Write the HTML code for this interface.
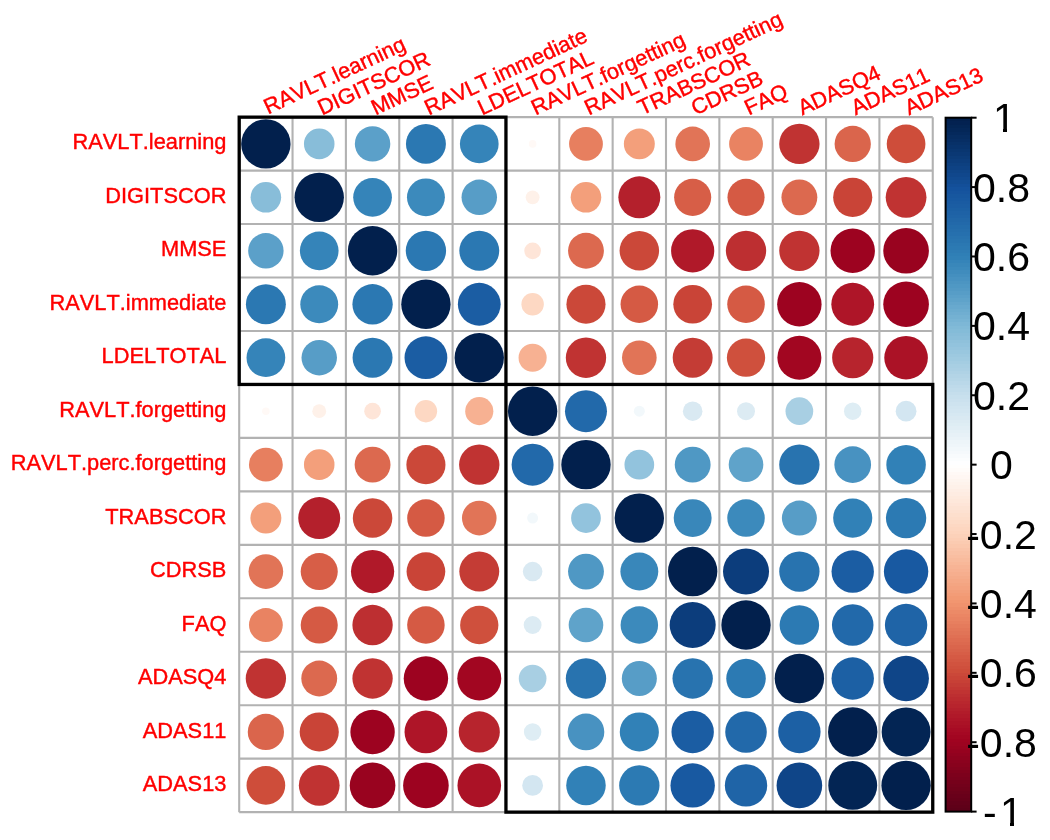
<!DOCTYPE html>
<html lang="en"><head><meta charset="utf-8"><title>Correlation plot</title>
<style>html,body{margin:0;padding:0;background:#fff}body{width:1050px;height:840px;overflow:hidden}svg{display:block;filter:blur(0.4px)}text{font-family:"Liberation Sans",Arial,Helvetica,sans-serif;font-kerning:none}</style></head><body>
<svg width="1050" height="840" viewBox="0 0 1050 840">
<rect width="1050" height="840" fill="#fff"/>
<g stroke="#B2B2B2" stroke-width="2.1" fill="none">
<line x1="239.20" y1="117.15" x2="239.20" y2="812.13"/>
<line x1="239.20" y1="117.15" x2="932.75" y2="117.15"/>
<line x1="292.55" y1="117.15" x2="292.55" y2="812.13"/>
<line x1="239.20" y1="170.61" x2="932.75" y2="170.61"/>
<line x1="345.90" y1="117.15" x2="345.90" y2="812.13"/>
<line x1="239.20" y1="224.07" x2="932.75" y2="224.07"/>
<line x1="399.25" y1="117.15" x2="399.25" y2="812.13"/>
<line x1="239.20" y1="277.53" x2="932.75" y2="277.53"/>
<line x1="452.60" y1="117.15" x2="452.60" y2="812.13"/>
<line x1="239.20" y1="330.99" x2="932.75" y2="330.99"/>
<line x1="505.95" y1="117.15" x2="505.95" y2="812.13"/>
<line x1="239.20" y1="384.45" x2="932.75" y2="384.45"/>
<line x1="559.30" y1="117.15" x2="559.30" y2="812.13"/>
<line x1="239.20" y1="437.91" x2="932.75" y2="437.91"/>
<line x1="612.65" y1="117.15" x2="612.65" y2="812.13"/>
<line x1="239.20" y1="491.37" x2="932.75" y2="491.37"/>
<line x1="666.00" y1="117.15" x2="666.00" y2="812.13"/>
<line x1="239.20" y1="544.83" x2="932.75" y2="544.83"/>
<line x1="719.35" y1="117.15" x2="719.35" y2="812.13"/>
<line x1="239.20" y1="598.29" x2="932.75" y2="598.29"/>
<line x1="772.70" y1="117.15" x2="772.70" y2="812.13"/>
<line x1="239.20" y1="651.75" x2="932.75" y2="651.75"/>
<line x1="826.05" y1="117.15" x2="826.05" y2="812.13"/>
<line x1="239.20" y1="705.21" x2="932.75" y2="705.21"/>
<line x1="879.40" y1="117.15" x2="879.40" y2="812.13"/>
<line x1="239.20" y1="758.67" x2="932.75" y2="758.67"/>
<line x1="932.75" y1="117.15" x2="932.75" y2="812.13"/>
<line x1="239.20" y1="812.13" x2="932.75" y2="812.13"/>
</g>
<g>
<circle cx="265.88" cy="143.88" r="24.70" fill="#02204D"/>
<circle cx="319.23" cy="143.88" r="15.28" fill="#88BDD9"/>
<circle cx="372.57" cy="143.88" r="17.73" fill="#5BA0C9"/>
<circle cx="425.92" cy="143.88" r="19.97" fill="#2B78B2"/>
<circle cx="479.27" cy="143.88" r="19.36" fill="#3584B9"/>
<circle cx="532.62" cy="143.88" r="3.77" fill="#FFF9F6"/>
<circle cx="585.98" cy="143.88" r="16.91" fill="#E77F5F"/>
<circle cx="639.33" cy="143.88" r="15.48" fill="#F39F7B"/>
<circle cx="692.67" cy="143.88" r="17.32" fill="#E17457"/>
<circle cx="746.02" cy="143.88" r="16.91" fill="#E98362"/>
<circle cx="799.38" cy="143.88" r="20.17" fill="#C03332"/>
<circle cx="852.72" cy="143.88" r="18.13" fill="#DA654C"/>
<circle cx="906.08" cy="143.88" r="19.36" fill="#CE4D3A"/>
<circle cx="265.88" cy="197.34" r="15.28" fill="#88BDD9"/>
<circle cx="319.23" cy="197.34" r="24.70" fill="#02204D"/>
<circle cx="372.57" cy="197.34" r="19.36" fill="#3584B9"/>
<circle cx="425.92" cy="197.34" r="18.95" fill="#3C8ABC"/>
<circle cx="479.27" cy="197.34" r="17.73" fill="#579DC7"/>
<circle cx="532.62" cy="197.34" r="6.93" fill="#FEF1E9"/>
<circle cx="585.98" cy="197.34" r="15.28" fill="#F39F7B"/>
<circle cx="639.33" cy="197.34" r="20.99" fill="#B4202C"/>
<circle cx="692.67" cy="197.34" r="18.54" fill="#D75E47"/>
<circle cx="746.02" cy="197.34" r="18.54" fill="#D55A44"/>
<circle cx="799.38" cy="197.34" r="17.93" fill="#DC694F"/>
<circle cx="852.72" cy="197.34" r="19.56" fill="#C94437"/>
<circle cx="906.08" cy="197.34" r="20.38" fill="#C03332"/>
<circle cx="265.88" cy="250.80" r="17.73" fill="#5BA0C9"/>
<circle cx="319.23" cy="250.80" r="19.36" fill="#3584B9"/>
<circle cx="372.57" cy="250.80" r="24.70" fill="#02204D"/>
<circle cx="425.92" cy="250.80" r="20.17" fill="#2B78B2"/>
<circle cx="479.27" cy="250.80" r="19.97" fill="#2B78B2"/>
<circle cx="532.62" cy="250.80" r="8.35" fill="#FEE5D8"/>
<circle cx="585.98" cy="250.80" r="17.93" fill="#DC694F"/>
<circle cx="639.33" cy="250.80" r="19.76" fill="#CB4839"/>
<circle cx="692.67" cy="250.80" r="21.60" fill="#B01929"/>
<circle cx="746.02" cy="250.80" r="20.17" fill="#BD2F31"/>
<circle cx="799.38" cy="250.80" r="20.17" fill="#C03332"/>
<circle cx="852.72" cy="250.80" r="22.21" fill="#9D0320"/>
<circle cx="906.08" cy="250.80" r="22.82" fill="#99031F"/>
<circle cx="265.88" cy="304.26" r="19.97" fill="#2B78B2"/>
<circle cx="319.23" cy="304.26" r="18.95" fill="#3C8ABC"/>
<circle cx="372.57" cy="304.26" r="20.17" fill="#2B78B2"/>
<circle cx="425.92" cy="304.26" r="24.70" fill="#02204D"/>
<circle cx="479.27" cy="304.26" r="21.39" fill="#1B5DA3"/>
<circle cx="532.62" cy="304.26" r="11.21" fill="#FDD8C3"/>
<circle cx="585.98" cy="304.26" r="19.56" fill="#CB4839"/>
<circle cx="639.33" cy="304.26" r="18.75" fill="#D55A44"/>
<circle cx="692.67" cy="304.26" r="19.36" fill="#C94437"/>
<circle cx="746.02" cy="304.26" r="18.75" fill="#D55A44"/>
<circle cx="799.38" cy="304.26" r="22.21" fill="#9D0320"/>
<circle cx="852.72" cy="304.26" r="21.39" fill="#AE1528"/>
<circle cx="906.08" cy="304.26" r="22.82" fill="#9D0320"/>
<circle cx="265.88" cy="357.72" r="19.36" fill="#3584B9"/>
<circle cx="319.23" cy="357.72" r="17.73" fill="#579DC7"/>
<circle cx="372.57" cy="357.72" r="19.97" fill="#2B78B2"/>
<circle cx="425.92" cy="357.72" r="21.39" fill="#1B5DA3"/>
<circle cx="479.27" cy="357.72" r="24.70" fill="#02204D"/>
<circle cx="532.62" cy="357.72" r="14.06" fill="#F7B192"/>
<circle cx="585.98" cy="357.72" r="20.17" fill="#C03332"/>
<circle cx="639.33" cy="357.72" r="17.32" fill="#E17457"/>
<circle cx="692.67" cy="357.72" r="19.97" fill="#C43C35"/>
<circle cx="746.02" cy="357.72" r="19.15" fill="#CF503D"/>
<circle cx="799.38" cy="357.72" r="22.00" fill="#A20621"/>
<circle cx="852.72" cy="357.72" r="20.58" fill="#B7242D"/>
<circle cx="906.08" cy="357.72" r="21.80" fill="#AB1226"/>
<circle cx="265.88" cy="411.18" r="3.77" fill="#FFF9F6"/>
<circle cx="319.23" cy="411.18" r="6.93" fill="#FEF1E9"/>
<circle cx="372.57" cy="411.18" r="8.35" fill="#FEE5D8"/>
<circle cx="425.92" cy="411.18" r="11.21" fill="#FDD8C3"/>
<circle cx="479.27" cy="411.18" r="14.06" fill="#F7B192"/>
<circle cx="532.62" cy="411.18" r="24.70" fill="#02204D"/>
<circle cx="585.98" cy="411.18" r="20.99" fill="#2269AA"/>
<circle cx="639.33" cy="411.18" r="5.50" fill="#F2F8FB"/>
<circle cx="692.67" cy="411.18" r="9.78" fill="#D9E9F2"/>
<circle cx="746.02" cy="411.18" r="8.96" fill="#DCEBF3"/>
<circle cx="799.38" cy="411.18" r="13.85" fill="#A8CFE3"/>
<circle cx="852.72" cy="411.18" r="8.76" fill="#DEEDF4"/>
<circle cx="906.08" cy="411.18" r="10.39" fill="#D3E6F1"/>
<circle cx="265.88" cy="464.64" r="16.91" fill="#E77F5F"/>
<circle cx="319.23" cy="464.64" r="15.28" fill="#F39F7B"/>
<circle cx="372.57" cy="464.64" r="17.93" fill="#DC694F"/>
<circle cx="425.92" cy="464.64" r="19.56" fill="#CB4839"/>
<circle cx="479.27" cy="464.64" r="20.17" fill="#C03332"/>
<circle cx="532.62" cy="464.64" r="20.99" fill="#2269AA"/>
<circle cx="585.98" cy="464.64" r="24.70" fill="#02204D"/>
<circle cx="639.33" cy="464.64" r="14.87" fill="#92C3DD"/>
<circle cx="692.67" cy="464.64" r="17.93" fill="#4F98C4"/>
<circle cx="746.02" cy="464.64" r="17.32" fill="#5FA3CA"/>
<circle cx="799.38" cy="464.64" r="20.17" fill="#2873AF"/>
<circle cx="852.72" cy="464.64" r="18.34" fill="#4892C1"/>
<circle cx="906.08" cy="464.64" r="19.76" fill="#3181B7"/>
<circle cx="265.88" cy="518.10" r="15.48" fill="#F39F7B"/>
<circle cx="319.23" cy="518.10" r="20.99" fill="#B4202C"/>
<circle cx="372.57" cy="518.10" r="19.76" fill="#CB4839"/>
<circle cx="425.92" cy="518.10" r="18.75" fill="#D55A44"/>
<circle cx="479.27" cy="518.10" r="17.32" fill="#E17457"/>
<circle cx="532.62" cy="518.10" r="5.50" fill="#F2F8FB"/>
<circle cx="585.98" cy="518.10" r="14.87" fill="#92C3DD"/>
<circle cx="639.33" cy="518.10" r="24.70" fill="#02204D"/>
<circle cx="692.67" cy="518.10" r="18.95" fill="#3987BA"/>
<circle cx="746.02" cy="518.10" r="18.75" fill="#3C8ABC"/>
<circle cx="799.38" cy="518.10" r="17.52" fill="#579DC7"/>
<circle cx="852.72" cy="518.10" r="19.56" fill="#3181B7"/>
<circle cx="906.08" cy="518.10" r="20.17" fill="#2C7AB3"/>
<circle cx="265.88" cy="571.56" r="17.32" fill="#E17457"/>
<circle cx="319.23" cy="571.56" r="18.54" fill="#D75E47"/>
<circle cx="372.57" cy="571.56" r="21.60" fill="#B01929"/>
<circle cx="425.92" cy="571.56" r="19.36" fill="#C94437"/>
<circle cx="479.27" cy="571.56" r="19.97" fill="#C43C35"/>
<circle cx="532.62" cy="571.56" r="9.78" fill="#D9E9F2"/>
<circle cx="585.98" cy="571.56" r="17.93" fill="#4F98C4"/>
<circle cx="639.33" cy="571.56" r="18.95" fill="#3987BA"/>
<circle cx="692.67" cy="571.56" r="24.70" fill="#02204D"/>
<circle cx="746.02" cy="571.56" r="23.02" fill="#0C3D7C"/>
<circle cx="799.38" cy="571.56" r="20.17" fill="#2873AF"/>
<circle cx="852.72" cy="571.56" r="21.19" fill="#1B5DA3"/>
<circle cx="906.08" cy="571.56" r="22.21" fill="#1859A1"/>
<circle cx="265.88" cy="625.02" r="16.91" fill="#E98362"/>
<circle cx="319.23" cy="625.02" r="18.54" fill="#D55A44"/>
<circle cx="372.57" cy="625.02" r="20.17" fill="#BD2F31"/>
<circle cx="425.92" cy="625.02" r="18.75" fill="#D55A44"/>
<circle cx="479.27" cy="625.02" r="19.15" fill="#CF503D"/>
<circle cx="532.62" cy="625.02" r="8.96" fill="#DCEBF3"/>
<circle cx="585.98" cy="625.02" r="17.32" fill="#5FA3CA"/>
<circle cx="639.33" cy="625.02" r="18.75" fill="#3C8ABC"/>
<circle cx="692.67" cy="625.02" r="23.02" fill="#0C3D7C"/>
<circle cx="746.02" cy="625.02" r="24.70" fill="#02204D"/>
<circle cx="799.38" cy="625.02" r="19.76" fill="#2C7AB3"/>
<circle cx="852.72" cy="625.02" r="20.78" fill="#2269AA"/>
<circle cx="906.08" cy="625.02" r="21.19" fill="#1F64A7"/>
<circle cx="265.88" cy="678.48" r="20.17" fill="#C03332"/>
<circle cx="319.23" cy="678.48" r="17.93" fill="#DC694F"/>
<circle cx="372.57" cy="678.48" r="20.17" fill="#C03332"/>
<circle cx="425.92" cy="678.48" r="22.21" fill="#9D0320"/>
<circle cx="479.27" cy="678.48" r="22.00" fill="#A20621"/>
<circle cx="532.62" cy="678.48" r="13.85" fill="#A8CFE3"/>
<circle cx="585.98" cy="678.48" r="20.17" fill="#2873AF"/>
<circle cx="639.33" cy="678.48" r="17.52" fill="#579DC7"/>
<circle cx="692.67" cy="678.48" r="20.17" fill="#2873AF"/>
<circle cx="746.02" cy="678.48" r="19.76" fill="#2C7AB3"/>
<circle cx="799.38" cy="678.48" r="24.70" fill="#02204D"/>
<circle cx="852.72" cy="678.48" r="21.19" fill="#1C60A4"/>
<circle cx="906.08" cy="678.48" r="22.82" fill="#0F4588"/>
<circle cx="265.88" cy="731.94" r="18.13" fill="#DA654C"/>
<circle cx="319.23" cy="731.94" r="19.56" fill="#C94437"/>
<circle cx="372.57" cy="731.94" r="22.21" fill="#9D0320"/>
<circle cx="425.92" cy="731.94" r="21.39" fill="#AE1528"/>
<circle cx="479.27" cy="731.94" r="20.58" fill="#B7242D"/>
<circle cx="532.62" cy="731.94" r="8.76" fill="#DEEDF4"/>
<circle cx="585.98" cy="731.94" r="18.34" fill="#4892C1"/>
<circle cx="639.33" cy="731.94" r="19.56" fill="#3181B7"/>
<circle cx="692.67" cy="731.94" r="21.19" fill="#1B5DA3"/>
<circle cx="746.02" cy="731.94" r="20.78" fill="#2269AA"/>
<circle cx="799.38" cy="731.94" r="21.19" fill="#1C60A4"/>
<circle cx="852.72" cy="731.94" r="24.70" fill="#02204D"/>
<circle cx="906.08" cy="731.94" r="24.45" fill="#032554"/>
<circle cx="265.88" cy="785.40" r="19.36" fill="#CE4D3A"/>
<circle cx="319.23" cy="785.40" r="20.38" fill="#C03332"/>
<circle cx="372.57" cy="785.40" r="22.82" fill="#99031F"/>
<circle cx="425.92" cy="785.40" r="22.82" fill="#9D0320"/>
<circle cx="479.27" cy="785.40" r="21.80" fill="#AB1226"/>
<circle cx="532.62" cy="785.40" r="10.39" fill="#D3E6F1"/>
<circle cx="585.98" cy="785.40" r="19.76" fill="#3181B7"/>
<circle cx="639.33" cy="785.40" r="20.17" fill="#2C7AB3"/>
<circle cx="692.67" cy="785.40" r="22.21" fill="#1859A1"/>
<circle cx="746.02" cy="785.40" r="21.19" fill="#1F64A7"/>
<circle cx="799.38" cy="785.40" r="22.82" fill="#0F4588"/>
<circle cx="852.72" cy="785.40" r="24.45" fill="#032554"/>
<circle cx="906.08" cy="785.40" r="24.70" fill="#02204D"/>
</g>
<g stroke="#000" stroke-width="3.3" fill="none">
<rect x="239.20" y="117.15" width="266.75" height="267.30"/>
<rect x="505.95" y="384.45" width="426.80" height="427.68"/>
</g>
<g fill="#FF0000" stroke="#FF0000" stroke-width="0.4" font-size="21.8" text-anchor="end">
<text x="226.4" y="149.30">RAVLT.learning</text>
<text x="226.4" y="202.80">DIGITSCOR</text>
<text x="226.4" y="256.30">MMSE</text>
<text x="226.4" y="309.80">RAVLT.immediate</text>
<text x="226.4" y="363.30">LDELTOTAL</text>
<text x="226.4" y="416.80">RAVLT.forgetting</text>
<text x="226.4" y="470.30">RAVLT.perc.forgetting</text>
<text x="226.4" y="523.80">TRABSCOR</text>
<text x="226.4" y="577.30">CDRSB</text>
<text x="226.4" y="630.80">FAQ</text>
<text x="226.4" y="684.30">ADASQ4</text>
<text x="226.4" y="737.80">ADAS11</text>
<text x="226.4" y="791.30">ADAS13</text>
</g>
<g fill="#FF0000" stroke="#FF0000" stroke-width="0.4" font-size="21.8">
<text transform="translate(267.88 114.40) rotate(-25)">RAVLT.learning</text>
<text transform="translate(322.03 115.60) rotate(-25)">DIGITSCOR</text>
<text transform="translate(375.38 115.60) rotate(-25)">MMSE</text>
<text transform="translate(428.72 115.60) rotate(-25)">RAVLT.immediate</text>
<text transform="translate(482.07 115.60) rotate(-25)">LDELTOTAL</text>
<text transform="translate(535.42 115.60) rotate(-25)">RAVLT.forgetting</text>
<text transform="translate(588.77 115.60) rotate(-25)">RAVLT.perc.forgetting</text>
<text transform="translate(642.12 115.60) rotate(-25)">TRABSCOR</text>
<text transform="translate(695.47 115.60) rotate(-25)">CDRSB</text>
<text transform="translate(748.82 115.60) rotate(-25)">FAQ</text>
<text transform="translate(802.17 115.60) rotate(-25)">ADASQ4</text>
<text transform="translate(855.52 115.60) rotate(-25)">ADAS11</text>
<text transform="translate(908.88 115.60) rotate(-25)">ADAS13</text>
</g>
<g shape-rendering="crispEdges">
<rect x="945.60" y="117.70" width="25.60" height="3.97" fill="#02204D"/>
<rect x="945.60" y="121.17" width="25.60" height="3.97" fill="#032251"/>
<rect x="945.60" y="124.64" width="25.60" height="3.97" fill="#032554"/>
<rect x="945.60" y="128.11" width="25.60" height="3.97" fill="#042758"/>
<rect x="945.60" y="131.58" width="25.60" height="3.97" fill="#05295C"/>
<rect x="945.60" y="135.05" width="25.60" height="3.97" fill="#062C60"/>
<rect x="945.60" y="138.52" width="25.60" height="3.97" fill="#072E64"/>
<rect x="945.60" y="141.99" width="25.60" height="3.97" fill="#083168"/>
<rect x="945.60" y="145.46" width="25.60" height="3.97" fill="#08336C"/>
<rect x="945.60" y="148.93" width="25.60" height="3.97" fill="#093670"/>
<rect x="945.60" y="152.40" width="25.60" height="3.97" fill="#0A3874"/>
<rect x="945.60" y="155.86" width="25.60" height="3.97" fill="#0B3B78"/>
<rect x="945.60" y="159.33" width="25.60" height="3.97" fill="#0C3D7C"/>
<rect x="945.60" y="162.80" width="25.60" height="3.97" fill="#0D4080"/>
<rect x="945.60" y="166.27" width="25.60" height="3.97" fill="#0E4284"/>
<rect x="945.60" y="169.74" width="25.60" height="3.97" fill="#0F4588"/>
<rect x="945.60" y="173.21" width="25.60" height="3.97" fill="#10478C"/>
<rect x="945.60" y="176.68" width="25.60" height="3.97" fill="#114A90"/>
<rect x="945.60" y="180.15" width="25.60" height="3.97" fill="#124D94"/>
<rect x="945.60" y="183.62" width="25.60" height="3.97" fill="#134F99"/>
<rect x="945.60" y="187.09" width="25.60" height="3.97" fill="#14529D"/>
<rect x="945.60" y="190.56" width="25.60" height="3.97" fill="#16549E"/>
<rect x="945.60" y="194.03" width="25.60" height="3.97" fill="#17579F"/>
<rect x="945.60" y="197.50" width="25.60" height="3.97" fill="#1859A1"/>
<rect x="945.60" y="200.97" width="25.60" height="3.97" fill="#1A5BA2"/>
<rect x="945.60" y="204.44" width="25.60" height="3.97" fill="#1B5DA3"/>
<rect x="945.60" y="207.91" width="25.60" height="3.97" fill="#1C60A4"/>
<rect x="945.60" y="211.38" width="25.60" height="3.97" fill="#1E62A6"/>
<rect x="945.60" y="214.85" width="25.60" height="3.97" fill="#1F64A7"/>
<rect x="945.60" y="218.32" width="25.60" height="3.97" fill="#2167A8"/>
<rect x="945.60" y="221.79" width="25.60" height="3.97" fill="#2269AA"/>
<rect x="945.60" y="225.25" width="25.60" height="3.97" fill="#236CAB"/>
<rect x="945.60" y="228.72" width="25.60" height="3.97" fill="#256EAC"/>
<rect x="945.60" y="232.19" width="25.60" height="3.97" fill="#2670AE"/>
<rect x="945.60" y="235.66" width="25.60" height="3.97" fill="#2873AF"/>
<rect x="945.60" y="239.13" width="25.60" height="3.97" fill="#2975B0"/>
<rect x="945.60" y="242.60" width="25.60" height="3.97" fill="#2B78B2"/>
<rect x="945.60" y="246.07" width="25.60" height="3.97" fill="#2C7AB3"/>
<rect x="945.60" y="249.54" width="25.60" height="3.97" fill="#2E7CB4"/>
<rect x="945.60" y="253.01" width="25.60" height="3.97" fill="#2F7FB6"/>
<rect x="945.60" y="256.48" width="25.60" height="3.97" fill="#3181B7"/>
<rect x="945.60" y="259.95" width="25.60" height="3.97" fill="#3584B9"/>
<rect x="945.60" y="263.42" width="25.60" height="3.97" fill="#3987BA"/>
<rect x="945.60" y="266.89" width="25.60" height="3.97" fill="#3C8ABC"/>
<rect x="945.60" y="270.36" width="25.60" height="3.97" fill="#408CBD"/>
<rect x="945.60" y="273.83" width="25.60" height="3.97" fill="#448FBF"/>
<rect x="945.60" y="277.30" width="25.60" height="3.97" fill="#4892C1"/>
<rect x="945.60" y="280.77" width="25.60" height="3.97" fill="#4C95C2"/>
<rect x="945.60" y="284.24" width="25.60" height="3.97" fill="#4F98C4"/>
<rect x="945.60" y="287.71" width="25.60" height="3.97" fill="#539AC5"/>
<rect x="945.60" y="291.18" width="25.60" height="3.97" fill="#579DC7"/>
<rect x="945.60" y="294.64" width="25.60" height="3.97" fill="#5BA0C9"/>
<rect x="945.60" y="298.11" width="25.60" height="3.97" fill="#5FA3CA"/>
<rect x="945.60" y="301.58" width="25.60" height="3.97" fill="#64A6CC"/>
<rect x="945.60" y="305.05" width="25.60" height="3.97" fill="#68A9CE"/>
<rect x="945.60" y="308.52" width="25.60" height="3.97" fill="#6CACCF"/>
<rect x="945.60" y="311.99" width="25.60" height="3.97" fill="#70AED1"/>
<rect x="945.60" y="315.46" width="25.60" height="3.97" fill="#74B1D2"/>
<rect x="945.60" y="318.93" width="25.60" height="3.97" fill="#78B4D4"/>
<rect x="945.60" y="322.40" width="25.60" height="3.97" fill="#7DB7D6"/>
<rect x="945.60" y="325.87" width="25.60" height="3.97" fill="#81BAD7"/>
<rect x="945.60" y="329.34" width="25.60" height="3.97" fill="#84BCD8"/>
<rect x="945.60" y="332.81" width="25.60" height="3.97" fill="#88BDD9"/>
<rect x="945.60" y="336.28" width="25.60" height="3.97" fill="#8BBFDA"/>
<rect x="945.60" y="339.75" width="25.60" height="3.97" fill="#8FC1DB"/>
<rect x="945.60" y="343.22" width="25.60" height="3.97" fill="#92C3DD"/>
<rect x="945.60" y="346.69" width="25.60" height="3.97" fill="#96C5DE"/>
<rect x="945.60" y="350.16" width="25.60" height="3.97" fill="#99C7DF"/>
<rect x="945.60" y="353.63" width="25.60" height="3.97" fill="#9DC9E0"/>
<rect x="945.60" y="357.10" width="25.60" height="3.97" fill="#A0CBE1"/>
<rect x="945.60" y="360.56" width="25.60" height="3.97" fill="#A4CDE2"/>
<rect x="945.60" y="364.03" width="25.60" height="3.97" fill="#A8CFE3"/>
<rect x="945.60" y="367.50" width="25.60" height="3.97" fill="#ABD0E4"/>
<rect x="945.60" y="370.97" width="25.60" height="3.97" fill="#AFD2E5"/>
<rect x="945.60" y="374.44" width="25.60" height="3.97" fill="#B3D4E6"/>
<rect x="945.60" y="377.91" width="25.60" height="3.97" fill="#B6D6E7"/>
<rect x="945.60" y="381.38" width="25.60" height="3.97" fill="#BAD8E9"/>
<rect x="945.60" y="384.85" width="25.60" height="3.97" fill="#BEDAEA"/>
<rect x="945.60" y="388.32" width="25.60" height="3.97" fill="#C1DCEB"/>
<rect x="945.60" y="391.79" width="25.60" height="3.97" fill="#C5DEEC"/>
<rect x="945.60" y="395.26" width="25.60" height="3.97" fill="#C8E0ED"/>
<rect x="945.60" y="398.73" width="25.60" height="3.97" fill="#CBE1EE"/>
<rect x="945.60" y="402.20" width="25.60" height="3.97" fill="#CEE3EF"/>
<rect x="945.60" y="405.67" width="25.60" height="3.97" fill="#D1E5F0"/>
<rect x="945.60" y="409.14" width="25.60" height="3.97" fill="#D3E6F1"/>
<rect x="945.60" y="412.61" width="25.60" height="3.97" fill="#D6E8F2"/>
<rect x="945.60" y="416.08" width="25.60" height="3.97" fill="#D9E9F2"/>
<rect x="945.60" y="419.55" width="25.60" height="3.97" fill="#DCEBF3"/>
<rect x="945.60" y="423.02" width="25.60" height="3.97" fill="#DEEDF4"/>
<rect x="945.60" y="426.49" width="25.60" height="3.97" fill="#E1EEF5"/>
<rect x="945.60" y="429.95" width="25.60" height="3.97" fill="#E4F0F6"/>
<rect x="945.60" y="433.42" width="25.60" height="3.97" fill="#E7F1F7"/>
<rect x="945.60" y="436.89" width="25.60" height="3.97" fill="#EAF3F8"/>
<rect x="945.60" y="440.36" width="25.60" height="3.97" fill="#EDF5F9"/>
<rect x="945.60" y="443.83" width="25.60" height="3.97" fill="#EFF6FA"/>
<rect x="945.60" y="447.30" width="25.60" height="3.97" fill="#F2F8FB"/>
<rect x="945.60" y="450.77" width="25.60" height="3.97" fill="#F5F9FC"/>
<rect x="945.60" y="454.24" width="25.60" height="3.97" fill="#F8FBFD"/>
<rect x="945.60" y="457.71" width="25.60" height="3.97" fill="#FBFDFE"/>
<rect x="945.60" y="461.18" width="25.60" height="3.97" fill="#FEFEFF"/>
<rect x="945.60" y="464.65" width="25.60" height="3.97" fill="#FFFEFD"/>
<rect x="945.60" y="468.12" width="25.60" height="3.97" fill="#FFFCFA"/>
<rect x="945.60" y="471.59" width="25.60" height="3.97" fill="#FFF9F6"/>
<rect x="945.60" y="475.06" width="25.60" height="3.97" fill="#FFF7F3"/>
<rect x="945.60" y="478.53" width="25.60" height="3.97" fill="#FEF5EF"/>
<rect x="945.60" y="482.00" width="25.60" height="3.97" fill="#FEF3EC"/>
<rect x="945.60" y="485.47" width="25.60" height="3.97" fill="#FEF1E9"/>
<rect x="945.60" y="488.94" width="25.60" height="3.97" fill="#FEEEE5"/>
<rect x="945.60" y="492.41" width="25.60" height="3.97" fill="#FEECE2"/>
<rect x="945.60" y="495.88" width="25.60" height="3.97" fill="#FEEADE"/>
<rect x="945.60" y="499.34" width="25.60" height="3.97" fill="#FEE8DB"/>
<rect x="945.60" y="502.81" width="25.60" height="3.97" fill="#FEE5D8"/>
<rect x="945.60" y="506.28" width="25.60" height="3.97" fill="#FDE3D4"/>
<rect x="945.60" y="509.75" width="25.60" height="3.97" fill="#FDE1D1"/>
<rect x="945.60" y="513.22" width="25.60" height="3.97" fill="#FDDFCD"/>
<rect x="945.60" y="516.69" width="25.60" height="3.97" fill="#FDDDCA"/>
<rect x="945.60" y="520.16" width="25.60" height="3.97" fill="#FDDBC7"/>
<rect x="945.60" y="523.63" width="25.60" height="3.97" fill="#FDD8C3"/>
<rect x="945.60" y="527.10" width="25.60" height="3.97" fill="#FDD6C0"/>
<rect x="945.60" y="530.57" width="25.60" height="3.97" fill="#FDD4BD"/>
<rect x="945.60" y="534.04" width="25.60" height="3.97" fill="#FCD1B9"/>
<rect x="945.60" y="537.51" width="25.60" height="3.97" fill="#FCCEB5"/>
<rect x="945.60" y="540.98" width="25.60" height="3.97" fill="#FBCBB1"/>
<rect x="945.60" y="544.45" width="25.60" height="3.97" fill="#FBC8AD"/>
<rect x="945.60" y="547.92" width="25.60" height="3.97" fill="#FAC4A9"/>
<rect x="945.60" y="551.39" width="25.60" height="3.97" fill="#F9C1A5"/>
<rect x="945.60" y="554.86" width="25.60" height="3.97" fill="#F9BEA1"/>
<rect x="945.60" y="558.33" width="25.60" height="3.97" fill="#F8BB9D"/>
<rect x="945.60" y="561.80" width="25.60" height="3.97" fill="#F8B899"/>
<rect x="945.60" y="565.27" width="25.60" height="3.97" fill="#F7B495"/>
<rect x="945.60" y="568.74" width="25.60" height="3.97" fill="#F7B192"/>
<rect x="945.60" y="572.20" width="25.60" height="3.97" fill="#F6AE8E"/>
<rect x="945.60" y="575.67" width="25.60" height="3.97" fill="#F5AB8A"/>
<rect x="945.60" y="579.14" width="25.60" height="3.97" fill="#F5A886"/>
<rect x="945.60" y="582.61" width="25.60" height="3.97" fill="#F4A582"/>
<rect x="945.60" y="586.08" width="25.60" height="3.97" fill="#F4A27F"/>
<rect x="945.60" y="589.55" width="25.60" height="3.97" fill="#F39F7B"/>
<rect x="945.60" y="593.02" width="25.60" height="3.97" fill="#F39C77"/>
<rect x="945.60" y="596.49" width="25.60" height="3.97" fill="#F29973"/>
<rect x="945.60" y="599.96" width="25.60" height="3.97" fill="#F29670"/>
<rect x="945.60" y="603.43" width="25.60" height="3.97" fill="#F0926D"/>
<rect x="945.60" y="606.90" width="25.60" height="3.97" fill="#EE8E6A"/>
<rect x="945.60" y="610.37" width="25.60" height="3.97" fill="#EC8A67"/>
<rect x="945.60" y="613.84" width="25.60" height="3.97" fill="#EB8664"/>
<rect x="945.60" y="617.31" width="25.60" height="3.97" fill="#E98362"/>
<rect x="945.60" y="620.78" width="25.60" height="3.97" fill="#E77F5F"/>
<rect x="945.60" y="624.25" width="25.60" height="3.97" fill="#E57B5C"/>
<rect x="945.60" y="627.72" width="25.60" height="3.97" fill="#E37759"/>
<rect x="945.60" y="631.19" width="25.60" height="3.97" fill="#E17457"/>
<rect x="945.60" y="634.66" width="25.60" height="3.97" fill="#E07054"/>
<rect x="945.60" y="638.12" width="25.60" height="3.97" fill="#DE6C51"/>
<rect x="945.60" y="641.59" width="25.60" height="3.97" fill="#DC694F"/>
<rect x="945.60" y="645.06" width="25.60" height="3.97" fill="#DA654C"/>
<rect x="945.60" y="648.53" width="25.60" height="3.97" fill="#D8624A"/>
<rect x="945.60" y="652.00" width="25.60" height="3.97" fill="#D75E47"/>
<rect x="945.60" y="655.47" width="25.60" height="3.97" fill="#D55A44"/>
<rect x="945.60" y="658.94" width="25.60" height="3.97" fill="#D35742"/>
<rect x="945.60" y="662.41" width="25.60" height="3.97" fill="#D1533F"/>
<rect x="945.60" y="665.88" width="25.60" height="3.97" fill="#CF503D"/>
<rect x="945.60" y="669.35" width="25.60" height="3.97" fill="#CE4D3A"/>
<rect x="945.60" y="672.82" width="25.60" height="3.97" fill="#CB4839"/>
<rect x="945.60" y="676.29" width="25.60" height="3.97" fill="#C94437"/>
<rect x="945.60" y="679.76" width="25.60" height="3.97" fill="#C74036"/>
<rect x="945.60" y="683.23" width="25.60" height="3.97" fill="#C43C35"/>
<rect x="945.60" y="686.70" width="25.60" height="3.97" fill="#C23733"/>
<rect x="945.60" y="690.17" width="25.60" height="3.97" fill="#C03332"/>
<rect x="945.60" y="693.64" width="25.60" height="3.97" fill="#BD2F31"/>
<rect x="945.60" y="697.11" width="25.60" height="3.97" fill="#BB2B2F"/>
<rect x="945.60" y="700.58" width="25.60" height="3.97" fill="#B9272E"/>
<rect x="945.60" y="704.05" width="25.60" height="3.97" fill="#B7242D"/>
<rect x="945.60" y="707.52" width="25.60" height="3.97" fill="#B4202C"/>
<rect x="945.60" y="710.98" width="25.60" height="3.97" fill="#B21C2A"/>
<rect x="945.60" y="714.45" width="25.60" height="3.97" fill="#B01929"/>
<rect x="945.60" y="717.92" width="25.60" height="3.97" fill="#AE1528"/>
<rect x="945.60" y="721.39" width="25.60" height="3.97" fill="#AB1226"/>
<rect x="945.60" y="724.86" width="25.60" height="3.97" fill="#A90F25"/>
<rect x="945.60" y="728.33" width="25.60" height="3.97" fill="#A70B24"/>
<rect x="945.60" y="731.80" width="25.60" height="3.97" fill="#A50823"/>
<rect x="945.60" y="735.27" width="25.60" height="3.97" fill="#A20621"/>
<rect x="945.60" y="738.74" width="25.60" height="3.97" fill="#A00320"/>
<rect x="945.60" y="742.21" width="25.60" height="3.97" fill="#9D0320"/>
<rect x="945.60" y="745.68" width="25.60" height="3.97" fill="#99031F"/>
<rect x="945.60" y="749.15" width="25.60" height="3.97" fill="#96021F"/>
<rect x="945.60" y="752.62" width="25.60" height="3.97" fill="#92021F"/>
<rect x="945.60" y="756.09" width="25.60" height="3.97" fill="#8E021E"/>
<rect x="945.60" y="759.56" width="25.60" height="3.97" fill="#8B021E"/>
<rect x="945.60" y="763.03" width="25.60" height="3.97" fill="#88021D"/>
<rect x="945.60" y="766.50" width="25.60" height="3.97" fill="#84021D"/>
<rect x="945.60" y="769.97" width="25.60" height="3.97" fill="#81011C"/>
<rect x="945.60" y="773.44" width="25.60" height="3.97" fill="#7D011C"/>
<rect x="945.60" y="776.91" width="25.60" height="3.97" fill="#7A011C"/>
<rect x="945.60" y="780.37" width="25.60" height="3.97" fill="#76011B"/>
<rect x="945.60" y="783.84" width="25.60" height="3.97" fill="#73011B"/>
<rect x="945.60" y="787.31" width="25.60" height="3.97" fill="#70011A"/>
<rect x="945.60" y="790.78" width="25.60" height="3.97" fill="#6C011A"/>
<rect x="945.60" y="794.25" width="25.60" height="3.97" fill="#69001A"/>
<rect x="945.60" y="797.72" width="25.60" height="3.97" fill="#660019"/>
<rect x="945.60" y="801.19" width="25.60" height="3.97" fill="#620019"/>
<rect x="945.60" y="804.66" width="25.60" height="3.97" fill="#5F0018"/>
<rect x="945.60" y="808.13" width="25.60" height="3.97" fill="#5C0018"/>
</g>
<rect x="945.60" y="117.70" width="25.60" height="693.90" fill="none" stroke="#000" stroke-width="2"/>
<g stroke="#000" stroke-width="2">
<line x1="971.20" y1="117.70" x2="976.60" y2="117.70"/>
<line x1="971.20" y1="187.09" x2="976.60" y2="187.09"/>
<line x1="971.20" y1="256.48" x2="976.60" y2="256.48"/>
<line x1="971.20" y1="325.87" x2="976.60" y2="325.87"/>
<line x1="971.20" y1="395.26" x2="976.60" y2="395.26"/>
<line x1="971.20" y1="464.65" x2="976.60" y2="464.65"/>
<line x1="971.20" y1="534.04" x2="976.60" y2="534.04"/>
<line x1="971.20" y1="603.43" x2="976.60" y2="603.43"/>
<line x1="971.20" y1="672.82" x2="976.60" y2="672.82"/>
<line x1="971.20" y1="742.21" x2="976.60" y2="742.21"/>
<line x1="971.20" y1="811.60" x2="976.60" y2="811.60"/>
</g>
<g fill="#000" font-size="41" text-anchor="middle">
<text x="993.1" y="132.30" text-anchor="start">1</text>
<text x="1001.5" y="201.69">0.8</text>
<text x="1001.5" y="271.08">0.6</text>
<text x="1001.5" y="340.47">0.4</text>
<text x="1001.5" y="409.86">0.2</text>
<text x="1001.5" y="479.25">0</text>
<text x="1001.5" y="548.64">-0.2</text>
<text x="1001.5" y="618.03">-0.4</text>
<text x="1001.5" y="687.42">-0.6</text>
<text x="1001.5" y="756.81">-0.8</text>
<text x="983.0 1000.1" y="826.20" text-anchor="start">-1</text>
</g>
<g fill="#fff" shape-rendering="crispEdges">
<rect x="995" y="128.5" width="8" height="4"/><rect x="1007" y="128.5" width="8" height="4"/>
<rect x="1002" y="822.5" width="8" height="4"/><rect x="1014" y="822.5" width="8" height="4"/>
</g>
</svg></body></html>
